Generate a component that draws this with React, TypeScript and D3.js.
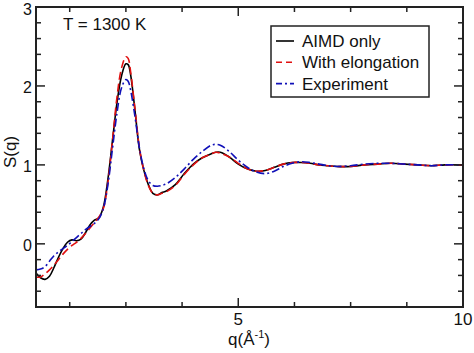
import React from 'react'
import * as d3 from 'd3'

// q grid shared by the three curves
const qValues = [0.5,0.6,0.7,0.8,0.9,1.0,1.1,1.2,1.3,1.4,1.5,1.6,1.7,1.8,1.9,2.0,2.1,2.2,2.3,2.4,2.5,2.55,2.6,2.7,2.8,2.9,3.0,3.1,3.2,3.3,3.4,3.6,3.8,4.0,4.2,4.4,4.5,4.6,4.8,5.0,5.2,5.4,5.6,5.8,6.0,6.2,6.4,6.6,6.8,7.0,7.2,7.5,7.8,8.1,8.4,8.7,9.0,9.3,9.6,10]

const aimdOnly = [-0.37,-0.43,-0.45,-0.41,-0.30,-0.17,-0.06,0.02,0.05,0.04,0.06,0.14,0.24,0.30,0.33,0.47,0.82,1.30,1.78,2.12,2.28,2.27,2.16,1.70,1.20,0.93,0.75,0.64,0.62,0.65,0.67,0.75,0.89,1.01,1.09,1.14,1.16,1.16,1.10,1.01,0.95,0.92,0.93,0.97,1.01,1.03,1.03,1.02,1.00,0.99,0.98,0.98,1.00,1.01,1.02,1.01,1.00,0.99,1.00,1.00]

const withElongation = [-0.42,-0.42,-0.38,-0.33,-0.27,-0.20,-0.13,-0.07,-0.02,0.02,0.07,0.13,0.20,0.27,0.34,0.45,0.78,1.30,1.85,2.22,2.37,2.35,2.20,1.72,1.22,0.93,0.74,0.64,0.62,0.64,0.66,0.74,0.88,1.00,1.09,1.14,1.16,1.15,1.10,1.02,0.95,0.92,0.93,0.97,1.01,1.03,1.03,1.02,1.00,0.99,0.98,0.98,1.00,1.01,1.02,1.01,1.00,0.99,1.00,1.00]

const experiment = [-0.33,-0.32,-0.29,-0.22,-0.15,-0.10,-0.06,-0.02,0.03,0.08,0.13,0.18,0.22,0.26,0.32,0.45,0.75,1.20,1.65,1.97,2.08,2.06,1.96,1.62,1.22,0.95,0.80,0.74,0.73,0.74,0.76,0.84,0.95,1.07,1.17,1.25,1.26,1.25,1.17,1.06,0.97,0.91,0.89,0.92,0.98,1.02,1.04,1.03,1.01,0.99,0.98,0.99,1.01,1.02,1.02,1.01,1.00,0.99,1.00,1.00]

const xMajor = [5, 10]
const xMinor = [1.25, 2.5, 3.75, 6.25, 7.5, 8.75]
const yMajor = [0, 1, 2, 3]
const yMinor = [-0.6,-0.4,-0.2,0.2,0.4,0.6,0.8,1.2,1.4,1.6,1.8,2.2,2.4,2.6,2.8]

const series = [
  { name: 'AIMD only', values: aimdOnly, color: '#000000', dash: '' },
  { name: 'With elongation', values: withElongation, color: '#e01010', dash: '8,4' },
  { name: 'Experiment', values: experiment, color: '#1010b8', dash: '8,3,2,3' },
]

const W = 474
const H = 353
const left = 36, right = 463, top = 7, bottom = 307
const font = 'Liberation Sans, Arial, sans-serif'

export default function App() {
  const x = d3.scaleLinear().domain([0.5, 10]).range([left, right])
  const y = d3.scaleLinear().domain([-0.8, 3]).range([bottom, top])

  const line = d3.line<number>()
    .x((d, i) => x(qValues[i]))
    .y(d => y(d))
    .curve(d3.curveCatmullRom.alpha(0.5))

  const major = 9, minor = 5
  return (
    <div>
      <style>{'body{margin:0}'}</style>
      <svg width={W} height={H} style={{ display: 'block', background: '#fff' }}>
        <defs>
          <clipPath id="plot">
            <rect x={left} y={top} width={right - left} height={bottom - top} />
          </clipPath>
        </defs>
        <g clipPath="url(#plot)">
          {series.map(s => (
            <path key={s.name} d={line(s.values) || ''} fill="none" stroke={s.color}
              strokeWidth={1.6} strokeDasharray={s.dash} />
          ))}
        </g>

        {/* ticks */}
        <g stroke="#222" strokeWidth={1.5}>
          {xMajor.map(v => (
            <g key={'xM' + v}>
              <line x1={x(v)} x2={x(v)} y1={bottom} y2={bottom - major} />
              <line x1={x(v)} x2={x(v)} y1={top} y2={top + major} />
            </g>
          ))}
          {xMinor.map(v => (
            <g key={'xm' + v}>
              <line x1={x(v)} x2={x(v)} y1={bottom} y2={bottom - minor} />
              <line x1={x(v)} x2={x(v)} y1={top} y2={top + minor} />
            </g>
          ))}
          {yMajor.map(v => (
            <g key={'yM' + v}>
              <line x1={left} x2={left + major} y1={y(v)} y2={y(v)} />
              <line x1={right} x2={right - major} y1={y(v)} y2={y(v)} />
            </g>
          ))}
          {yMinor.map(v => (
            <g key={'ym' + v}>
              <line x1={left} x2={left + minor} y1={y(v)} y2={y(v)} />
              <line x1={right} x2={right - minor} y1={y(v)} y2={y(v)} />
            </g>
          ))}
        </g>
        <rect x={left} y={top} width={right - left} height={bottom - top}
          fill="none" stroke="#222" strokeWidth={2} />

        {/* tick labels */}
        <g fontFamily={font} fill="#111">
          {xMajor.map(v => (
            <text key={'xl' + v} x={x(v)} y={bottom + 18} fontSize={17} textAnchor="middle">{v}</text>
          ))}
          {yMajor.map(v => (
            <text key={'yl' + v} x={left - 4} y={y(v) + 7.5} fontSize={16} textAnchor="end">{v}</text>
          ))}
        </g>

        {/* axis titles */}
        <text x={249} y={345} textAnchor="middle" fontFamily={font} fontSize={17} fill="#111">
          q(Å<tspan dy={-7} fontSize={11}>-1</tspan><tspan dy={7}>)</tspan>
        </text>
        <text transform="translate(16,152) rotate(-90)" textAnchor="middle"
          fontFamily={font} fontSize={17} fill="#111">S(q)</text>

        <text x={63} y={30} fontFamily={font} fontSize={17} fill="#111">T = 1300 K</text>

        {/* legend */}
        <rect x={271} y={26} width={158} height={71} fill="#fff" stroke="#222" strokeWidth={1.5} />
        {series.map((s, i) => {
          const ly = 41 + i * 21.3
          return (
            <g key={'lg' + s.name}>
              <line x1={276} x2={294} y1={ly} y2={ly} stroke={s.color} strokeWidth={1.6}
                strokeDasharray={s.dash === '' ? '' : (i === 1 ? '6,4' : '6,3,2,3')} />
              <text x={302} y={ly + 6} fontFamily={font} fontSize={17} fill="#111">{s.name}</text>
            </g>
          )
        })}
      </svg>
    </div>
  )
}
